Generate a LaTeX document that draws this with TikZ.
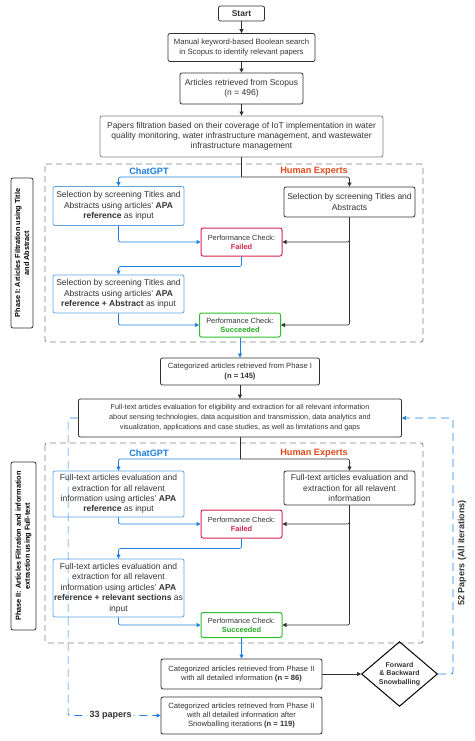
\documentclass[tikz,border=0pt]{standalone}
\usepackage{fontspec}
\setmainfont{Liberation Sans}
\usetikzlibrary{arrows.meta,shapes.geometric}

\definecolor{txtgray}{HTML}{333333}
\definecolor{boxgray}{HTML}{303030}
\definecolor{gptblue}{HTML}{1E7FE0}
\definecolor{gptedge}{HTML}{5BA3E6}
\definecolor{failred}{HTML}{D4244B}
\definecolor{okgreen}{HTML}{2DBE2D}
\definecolor{oktext}{HTML}{1FA81F}
\definecolor{humanred}{HTML}{DE4A1A}

\begin{document}
\begin{tikzpicture}[x=1pt,y=-1pt,
  box/.style={draw=boxgray,line width=0.8pt,rounded corners=2pt,align=center,text=txtgray,inner sep=1pt,font=\fontsize{8.5}{10.4}\selectfont},
  gptbox/.style={box,draw=gptedge},
  failbox/.style={box,draw=failred,line width=1pt,font=\fontsize{7.4}{9}\selectfont},
  okbox/.style={box,draw=okgreen,line width=1pt,font=\fontsize{7.4}{9}\selectfont},
  catbox/.style={box,font=\fontsize{7.6}{9.4}\selectfont},
  phasebox/.style={draw=gray,line width=0.8pt,dash pattern=on 6pt off 4pt,rounded corners=2pt},
  phaselabel/.style={box,rotate=90,text=black,font=\bfseries\fontsize{7.3}{9}\selectfont},
  who/.style={font=\bfseries\fontsize{9.2}{11}\selectfont},
  blk/.style={draw=boxgray,line width=0.7pt,rounded corners=2pt},
  blkarr/.style={blk,-{Triangle[length=4pt,width=4pt]}},
  blu/.style={draw=gptblue,line width=0.7pt,rounded corners=2pt},
  bluarr/.style={blu,-{Triangle[length=4pt,width=4pt]}},
  snowline/.style={bluarr,dash pattern=on 8pt off 5pt},
  count/.style={text=txtgray,font=\bfseries\fontsize{9}{11}\selectfont}]
\useasboundingbox (0,0) rectangle (474,741);

\node[box,font=\bfseries\fontsize{8.5}{10}\selectfont,minimum width=46,minimum height=15] (start) at (241.5,13.5) {Start};
\node[box,font=\fontsize{7.7}{9.8}\selectfont,minimum width=147,minimum height=28] (search) at (241.5,47.5) {Manual keyword-based Boolean search\\in Scopus to identify relevant papers};
\node[box,minimum width=123,minimum height=31] (scopus) at (241.5,88.5) {Articles retrieved from Scopus\\(n = 496)};
\node[box,draw=gray,font=\fontsize{8.5}{10}\selectfont,minimum width=283,minimum height=41] (filter) at (241.5,136.5) {Papers filtration based on their coverage of IoT implementation in water\\quality monitoring, water infrastructure management, and wastewater\\infrastructure management};

\draw[blkarr] (start) -- (search);
\draw[blkarr] (search) -- (scopus);
\draw[blkarr] (scopus) -- (filter);

\draw[phasebox] (45,164) rectangle (423,342);
\node[phaselabel,minimum width=150,minimum height=22] (phase1) at (22,253) {Phase I: Articles Filtration using Title\\and Abstract};
\node[who,text=gptblue] (gpt1) at (149,171) {ChatGPT};
\node[who,text=humanred] (hum1) at (314,171) {Human Experts};

\node[gptbox,minimum width=131,minimum height=39] (g1) at (118.5,206) {Selection by screening Titles and\\Abstracts using articles' \textbf{APA}\\\textbf{reference} as input};
\node[box,minimum width=131,minimum height=30] (h1) at (349.5,202) {Selection by screening Titles and\\Abstracts};
\node[failbox,minimum width=81,minimum height=28] (f1) at (241.5,242) {Performance Check:\\\textcolor{failred}{\textbf{Failed}}};
\node[gptbox,minimum width=131,minimum height=38] (g2) at (118.5,294) {Selection by screening Titles and\\Abstracts using articles' \textbf{APA}\\\textbf{reference + Abstract} as input};
\node[okbox,minimum width=81,minimum height=24] (k1) at (240,325) {Performance Check:\\\textcolor{oktext}{\textbf{Succeeded}}};

\draw[blk] (filter.south) -- (241.5,177) coordinate (split1);
\draw[bluarr] (split1) -| (g1.north);
\draw[blkarr] (split1) -| (h1.north);
\draw[bluarr] (g1.south) |- (f1.west);
\draw[blkarr] (h1.south) |- (f1.east);
\draw[bluarr] (f1.south) -- ++(0,10) -| (g2.north);
\draw[bluarr] (g2.south) |- (k1.west);
\draw[blkarr] (h1.south) |- (k1.east);

\node[catbox,minimum width=159,minimum height=27] (cat1) at (240,371.5) {Categorized articles retrieved from Phase I\\\textbf{(n = 145)}};
\node[box,font=\fontsize{7.25}{10}\selectfont,minimum width=323,minimum height=38] (full) at (240,418) {Full-text articles evaluation for eligibility and extraction for all relevant information\\about sensing technologies, data acquisition and transmission, data analytics and\\visualization, applications and case studies, as well as limitations and gaps};

\draw[bluarr] (k1) -- (cat1);
\draw[blkarr] (cat1) -- (full);

\draw[phasebox] (45,443) rectangle (423,643);
\node[phaselabel,minimum width=168,minimum height=25] (phase2) at (23.5,546) {Phase II: Articles Filtration and information\\extraction using Full-text};
\node[who,text=gptblue] (gpt2) at (149,453) {ChatGPT};
\node[who,text=humanred] (hum2) at (314,453) {Human Experts};

\node[gptbox,minimum width=131,minimum height=46] (g3) at (118.5,494) {Full-text articles evaluation and\\extraction for all relavent\\information using articles' \textbf{APA}\\\textbf{reference} as input};
\node[box,minimum width=131,minimum height=34] (h2) at (349.5,488) {Full-text articles evaluation and\\extraction for all relavent\\information};
\node[failbox,minimum width=81,minimum height=28] (f2) at (241.5,524) {Performance Check:\\\textcolor{failred}{\textbf{Failed}}};
\node[gptbox,minimum width=131,minimum height=58] (g4) at (118.5,588) {Full-text articles evaluation and\\extraction for all relavent\\information using articles' \textbf{APA}\\\textbf{reference + relevant sections} as\\input};
\node[okbox,minimum width=81,minimum height=25] (k2) at (241.5,625) {Performance Check:\\\textcolor{oktext}{\textbf{Succeeded}}};

\draw[blk] (full.south) -- (240,459) coordinate (split2);
\draw[bluarr] (split2) -| (g3.north);
\draw[blkarr] (split2) -| (h2.north);
\draw[bluarr] (g3.south) |- (f2.west);
\draw[blkarr] (h2.south) |- (f2.east);
\draw[bluarr] (f2.south) -- ++(0,10) -| (g4.north);
\draw[bluarr] (g4.south) |- (k2.west);
\draw[blkarr] (h2.south) |- (k2.east);

\node[catbox,minimum width=161,minimum height=30] (cat2) at (241.5,674) {Categorized articles retrieved from Phase II\\with all detailed information \textbf{(n = 86)}};
\node[diamond,draw=black,line width=1pt,minimum width=76,minimum height=57,inner sep=0pt,align=center,text=txtgray,font=\bfseries\fontsize{7}{8.5}\selectfont] (snow) at (399.5,674) {Forward\\\& Backward\\Snowballing};
\node[catbox,minimum width=161,minimum height=37] (final) at (241.5,715.5) {Categorized articles retrieved from Phase II\\with all detailed information after\\Snowballing iterations \textbf{(n = 119)}};

\draw[bluarr] (k2) -- (cat2);
\draw[blkarr] (cat2) -- (snow);
\draw[snowline] (snow.east) -- ++(15,0) |- (full.east);
\node[count,rotate=90] (n52) at (462,553) {52 Papers (All iterations)};
\draw[snowline] (full.west) -- ++(-10,0) |- node[count,pos=0.73,fill=white,inner sep=2pt] (n33) {33 papers} (final.west);
\end{tikzpicture}
\end{document}
